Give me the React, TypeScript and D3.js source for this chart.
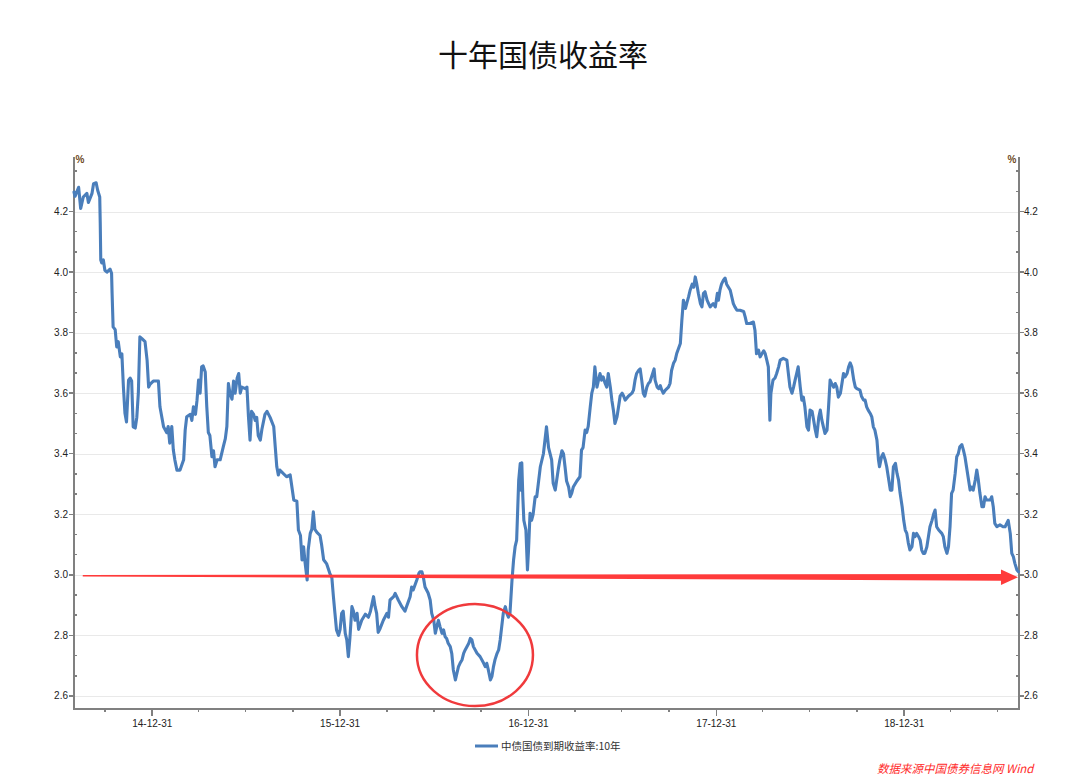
import React from "react";
import * as d3 from "d3";

const title = "十年国债收益率";
const seriesName = "中债国债到期收益率:10年";
const sourceNote = "数据来源中国债券信息网 Wind";
const unitLabel = "%";

const dates = [
"2014-08-01","2014-08-03","2014-08-10","2014-08-14","2014-08-19","2014-08-26","2014-08-29","2014-09-05","2014-09-08","2014-09-13",
"2014-09-16","2014-09-20","2014-09-21","2014-09-22","2014-09-24","2014-09-27","2014-09-30","2014-10-04","2014-10-10","2014-10-13",
"2014-10-14","2014-10-16","2014-10-20","2014-10-23","2014-10-26","2014-10-30","2014-11-02","2014-11-05","2014-11-08","2014-11-11",
"2014-11-15","2014-11-18","2014-11-21","2014-11-24","2014-11-28","2014-12-01","2014-12-04","2014-12-07","2014-12-11","2014-12-14",
"2014-12-17","2014-12-21","2014-12-24","2014-12-27","2015-01-02","2015-01-12","2015-01-15","2015-01-22","2015-01-28","2015-01-31",
"2015-02-03","2015-02-07","2015-02-10","2015-02-13","2015-02-17","2015-02-23","2015-03-02","2015-03-05","2015-03-08","2015-03-15",
"2015-03-18","2015-03-21","2015-03-25","2015-03-28","2015-03-31","2015-04-03","2015-04-06","2015-04-09","2015-04-13","2015-04-16",
"2015-04-19","2015-04-22","2015-04-26","2015-04-29","2015-05-02","2015-05-06","2015-05-12","2015-05-18","2015-05-22","2015-05-25",
"2015-05-28","2015-05-31","2015-06-04","2015-06-07","2015-06-10","2015-06-14","2015-06-17","2015-06-20","2015-06-23","2015-06-30",
"2015-07-03","2015-07-06","2015-07-09","2015-07-12","2015-07-16","2015-07-19","2015-07-22","2015-07-25","2015-07-29","2015-08-01",
"2015-08-07","2015-08-11","2015-08-17","2015-08-24","2015-08-27","2015-08-30","2015-09-02","2015-09-05","2015-09-18","2015-09-25",
"2015-10-02","2015-10-08","2015-10-11","2015-10-15","2015-10-18","2015-10-21","2015-10-24","2015-10-28","2015-10-30","2015-11-03",
"2015-11-06","2015-11-09","2015-11-12","2015-11-16","2015-11-22","2015-11-25","2015-11-29","2015-12-05","2015-12-11","2015-12-15",
"2015-12-18","2015-12-21","2015-12-24","2015-12-28","2015-12-31","2016-01-03","2016-01-06","2016-01-10","2016-01-13","2016-01-16",
"2016-01-19","2016-01-23","2016-01-26","2016-01-29","2016-02-02","2016-02-05","2016-02-11","2016-02-18","2016-02-24","2016-02-28",
"2016-03-05","2016-03-08","2016-03-11","2016-03-14","2016-03-17","2016-03-24","2016-03-31","2016-04-03","2016-04-06","2016-04-13",
"2016-04-16","2016-04-19","2016-04-22","2016-04-29","2016-05-05","2016-05-08","2016-05-15","2016-05-18","2016-05-21","2016-05-28",
"2016-06-01","2016-06-03","2016-06-07","2016-06-10","2016-06-13","2016-06-16","2016-06-19","2016-06-23","2016-06-26","2016-06-30",
"2016-07-03","2016-07-06","2016-07-09","2016-07-12","2016-07-16","2016-07-19","2016-07-22","2016-07-25","2016-07-28","2016-08-01",
"2016-08-04","2016-08-07","2016-08-11","2016-08-14","2016-08-17","2016-08-20","2016-08-24","2016-08-27","2016-08-30","2016-09-06",
"2016-09-09","2016-09-12","2016-09-15","2016-09-22","2016-09-28","2016-10-05","2016-10-08","2016-10-11","2016-10-14","2016-10-18",
"2016-10-21","2016-10-24","2016-10-27","2016-10-31","2016-11-03","2016-11-06","2016-11-09","2016-11-12","2016-11-16","2016-11-19",
"2016-11-22","2016-11-25","2016-11-29","2016-12-02","2016-12-05","2016-12-08","2016-12-12","2016-12-15","2016-12-16","2016-12-18",
"2016-12-20","2016-12-22","2016-12-26","2016-12-29","2016-12-31","2017-01-03","2017-01-06","2017-01-09","2017-01-13","2017-01-16",
"2017-01-19","2017-01-23","2017-01-29","2017-02-04","2017-02-08","2017-02-14","2017-02-17","2017-02-21","2017-02-27","2017-03-02",
"2017-03-06","2017-03-09","2017-03-12","2017-03-15","2017-03-19","2017-03-22","2017-03-25","2017-03-28","2017-04-04","2017-04-10",
"2017-04-13","2017-04-16","2017-04-20","2017-04-23","2017-04-26","2017-04-30","2017-05-03","2017-05-06","2017-05-09","2017-05-13",
"2017-05-16","2017-05-19","2017-05-22","2017-05-25","2017-05-29","2017-06-01","2017-06-04","2017-06-08","2017-06-11","2017-06-14",
"2017-06-17","2017-06-21","2017-06-24","2017-06-27","2017-07-01","2017-07-04","2017-07-07","2017-07-13","2017-07-20","2017-07-23",
"2017-07-26","2017-07-29","2017-08-02","2017-08-05","2017-08-08","2017-08-11","2017-08-14","2017-08-18","2017-08-21","2017-08-24",
"2017-09-01","2017-09-03","2017-09-07","2017-09-10","2017-09-13","2017-09-16","2017-09-19","2017-09-23","2017-09-29","2017-10-02",
"2017-10-05","2017-10-09","2017-10-12","2017-10-15","2017-10-22","2017-10-25","2017-10-28","2017-11-01","2017-11-04","2017-11-07",
"2017-11-10","2017-11-14","2017-11-17","2017-11-20","2017-11-23","2017-11-26","2017-11-30","2017-12-03","2017-12-06","2017-12-09",
"2017-12-13","2017-12-16","2017-12-19","2017-12-25","2017-12-29","2018-01-02","2018-01-04","2018-01-07","2018-01-10","2018-01-14",
"2018-01-17","2018-01-20","2018-01-27","2018-02-02","2018-02-05","2018-02-09","2018-02-15","2018-02-22","2018-02-25","2018-02-28",
"2018-03-06","2018-03-13","2018-03-16","2018-03-19","2018-03-23","2018-03-26","2018-04-02","2018-04-05","2018-04-08","2018-04-11",
"2018-04-14","2018-04-16","2018-04-20","2018-04-24","2018-04-27","2018-05-01","2018-05-04","2018-05-10","2018-05-17","2018-05-20",
"2018-05-23","2018-05-27","2018-05-30","2018-06-02","2018-06-05","2018-06-08","2018-06-12","2018-06-15","2018-06-18","2018-06-21",
"2018-06-25","2018-06-28","2018-07-01","2018-07-05","2018-07-08","2018-07-11","2018-07-14","2018-07-18","2018-07-21","2018-07-24",
"2018-07-27","2018-07-30","2018-08-03","2018-08-06","2018-08-09","2018-08-12","2018-08-16","2018-08-19","2018-08-22","2018-08-25",
"2018-08-29","2018-09-01","2018-09-04","2018-09-07","2018-09-11","2018-09-14","2018-09-17","2018-09-20","2018-09-24","2018-09-27",
"2018-09-30","2018-10-06","2018-10-09","2018-10-13","2018-10-16","2018-10-19","2018-10-22","2018-10-26","2018-10-29","2018-11-01",
"2018-11-04","2018-11-08","2018-11-11","2018-11-13","2018-11-17","2018-11-20","2018-11-24","2018-11-27","2018-12-01","2018-12-04",
"2018-12-07","2018-12-10","2018-12-14","2018-12-17","2018-12-20","2018-12-23","2018-12-27","2018-12-30","2019-01-02","2019-01-05",
"2019-01-08","2019-01-11","2019-01-15","2019-01-18","2019-01-21","2019-01-24","2019-01-28","2019-01-31","2019-02-03","2019-02-06",
"2019-02-09","2019-02-13","2019-02-16","2019-02-19","2019-02-23","2019-02-26","2019-03-01","2019-03-04","2019-03-08","2019-03-14",
"2019-03-17","2019-03-20","2019-03-24","2019-03-27","2019-03-30","2019-04-02","2019-04-05","2019-04-09","2019-04-12","2019-04-15",
"2019-04-18","2019-04-22","2019-04-25","2019-04-28","2019-05-01","2019-05-05","2019-05-08","2019-05-11","2019-05-14","2019-05-18",
"2019-05-21","2019-05-24","2019-05-27","2019-05-31","2019-06-03","2019-06-06","2019-06-09","2019-06-16","2019-06-19","2019-06-22",
"2019-06-25","2019-06-29","2019-07-05","2019-07-11","2019-07-15","2019-07-21","2019-07-25","2019-07-28","2019-07-31","2019-08-03",
"2019-08-07","2019-08-10"
];

const yields = [
4.264,4.25,4.28,4.21,4.248,4.26,4.23,4.26,4.292,4.295,
4.27,4.248,4.16,4.04,4.03,4.04,4.006,4.0,4.01,3.996,
3.93,3.819,3.81,3.753,3.77,3.72,3.73,3.62,3.534,3.505,
3.643,3.65,3.64,3.489,3.485,3.52,3.6,3.786,3.78,3.775,
3.77,3.709,3.62,3.63,3.64,3.64,3.555,3.489,3.47,3.49,
3.435,3.49,3.412,3.379,3.346,3.346,3.38,3.478,3.522,3.53,
3.51,3.555,3.53,3.577,3.643,3.6,3.687,3.69,3.67,3.555,
3.47,3.46,3.39,3.41,3.357,3.38,3.38,3.423,3.45,3.49,
3.632,3.6,3.58,3.64,3.6,3.65,3.665,3.6,3.62,3.615,
3.62,3.522,3.445,3.54,3.53,3.51,3.52,3.46,3.445,3.48,
3.53,3.54,3.52,3.49,3.423,3.357,3.33,3.346,3.324,3.33,
3.247,3.243,3.148,3.13,3.049,3.093,3.04,2.983,3.082,3.137,
3.15,3.208,3.15,3.14,3.13,3.1,3.05,3.036,3.005,2.99,
2.928,2.873,2.818,2.8,2.82,2.873,2.88,2.807,2.785,2.73,
2.79,2.895,2.88,2.85,2.873,2.82,2.85,2.87,2.86,2.88,
2.928,2.895,2.873,2.81,2.82,2.85,2.873,2.86,2.917,2.928,
2.939,2.928,2.917,2.895,2.88,2.895,2.928,2.96,2.95,2.983,
3.005,3.01,3.01,2.99,2.96,2.95,2.94,2.917,2.873,2.85,
2.807,2.83,2.85,2.83,2.807,2.818,2.796,2.79,2.774,2.763,
2.74,2.686,2.653,2.675,2.697,2.708,2.72,2.741,2.752,2.774,
2.79,2.785,2.763,2.741,2.73,2.708,2.697,2.708,2.686,2.653,
2.665,2.697,2.72,2.741,2.752,2.785,2.829,2.873,2.895,2.873,
2.86,2.873,2.983,3.049,3.093,3.115,3.313,3.368,3.28,3.37,
3.258,3.18,3.148,3.016,3.08,3.203,3.18,3.2,3.258,3.258,
3.3,3.357,3.4,3.489,3.42,3.38,3.302,3.28,3.35,3.38,
3.41,3.4,3.357,3.31,3.29,3.258,3.27,3.29,3.31,3.324,
3.412,3.42,3.478,3.47,3.49,3.555,3.6,3.62,3.687,3.62,
3.643,3.665,3.643,3.654,3.632,3.62,3.665,3.62,3.577,3.544,
3.5,3.522,3.555,3.59,3.6,3.59,3.577,3.59,3.6,3.61,
3.643,3.665,3.675,3.68,3.643,3.6,3.59,3.62,3.632,3.637,
3.68,3.643,3.62,3.615,3.625,3.61,3.6,3.61,3.62,3.632,
3.675,3.7,3.709,3.731,3.764,3.841,3.907,3.88,3.9,3.918,
3.94,3.96,3.95,3.984,3.96,3.93,3.896,3.885,3.93,3.935,
3.907,3.896,3.885,3.896,3.885,3.93,3.907,3.94,3.96,3.974,
3.98,3.96,3.94,3.896,3.885,3.874,3.874,3.87,3.852,3.83,
3.83,3.835,3.808,3.73,3.742,3.72,3.74,3.73,3.709,3.687,
3.511,3.6,3.643,3.65,3.664,3.687,3.709,3.715,3.709,3.664,
3.62,3.6,3.62,3.643,3.665,3.687,3.62,3.577,3.587,3.555,
3.489,3.478,3.544,3.54,3.511,3.48,3.456,3.52,3.544,3.511,
3.489,3.467,3.478,3.555,3.643,3.632,3.62,3.632,3.62,3.587,
3.6,3.632,3.665,3.654,3.665,3.687,3.7,3.687,3.643,3.62,
3.615,3.61,3.59,3.577,3.577,3.555,3.544,3.533,3.522,3.489,
3.478,3.445,3.379,3.357,3.39,3.4,3.38,3.357,3.313,3.28,
3.28,3.357,3.368,3.335,3.313,3.27,3.225,3.18,3.148,3.137,
3.105,3.082,3.093,3.137,3.126,3.137,3.126,3.115,3.082,3.071,
3.071,3.093,3.126,3.159,3.18,3.2,3.214,3.159,3.148,3.137,
3.126,3.093,3.071,3.093,3.159,3.269,3.28,3.335,3.39,3.4,
3.423,3.43,3.412,3.39,3.357,3.313,3.28,3.29,3.28,3.313,
3.346,3.313,3.27,3.225,3.225,3.258,3.247,3.247,3.258,3.225,
3.17,3.159,3.165,3.159,3.159,3.18,3.137,3.071,3.06,3.038,
3.016,3.01
];

const xDomain = ["2014-08-01", "2019-08-11"];
const yDomain = [2.557, 4.38];
const yMajorTicks = [2.6, 2.8, 3.0, 3.2, 3.4, 3.6, 3.8, 4.0, 4.2];
const xMajorTicks = ["2014-12-31", "2015-12-31", "2016-12-31", "2017-12-31", "2018-12-31"];
const xMinorTicks = [
  "2014-09-30", "2015-03-31", "2015-06-30", "2015-09-30", "2016-03-31", "2016-06-30", "2016-09-30",
  "2017-03-31", "2017-06-30", "2017-09-30", "2018-03-31", "2018-06-30", "2018-09-30", "2019-03-31", "2019-06-30",
];

// annotations (in data terms)
const arrowLevel = 2.997;
const arrowEndLevel = 2.992;
const arrowStart = "2014-08-18";
const arrowTip = "2019-08-09";
const circleCenter = { date: "2016-09-18", value: 2.735 };

const W = 1080;
const H = 781;
const L = 74;
const R = 1019;
const T = 157;
const B = 709;

const parse = d3.timeParse("%Y-%m-%d");
const fmt = d3.timeFormat("%y-%m-%d");

export default function App() {
  const x = d3.scaleTime().domain(xDomain.map((d) => parse(d) as Date)).range([L, R]);
  const y = d3.scaleLinear().domain(yDomain).range([B, T]);

  const data = dates.map((d, i) => ({ date: parse(d) as Date, value: yields[i] }));
  const line = d3
    .line<{ date: Date; value: number }>()
    .x((d) => x(d.date))
    .y((d) => y(d.value));

  const step = 0.2 / 3;
  const isMinor = (v: number) => !yMajorTicks.some((m) => Math.abs(m - v) < 1e-3);
  const minorY = d3
    .range(-1, 30)
    .map((i) => +(2.6 + i * step).toFixed(4))
    .filter((v) => v >= yDomain[0] && v <= yDomain[1] && isMinor(v));

  const axisColor = "#808080";
  const labelFont = "'Liberation Sans', Arial, sans-serif";
  const cjkFont = "'Noto Sans CJK SC', 'Noto Sans', sans-serif";

  // arrow polygon
  const ax0 = x(parse(arrowStart) as Date);
  const ax1 = x(parse(arrowTip) as Date);
  const ay0 = y(arrowLevel);
  const ay1 = y(arrowEndLevel);
  const headLen = 17;
  const axh = ax1 - headLen;
  const ayh = ay1;
  const arrowPts: [number, number][] = [
    [ax0, ay0 - 0.8],
    [axh, ayh - 3.4],
    [axh, ayh - 7.8],
    [ax1, ay1],
    [axh, ayh + 7.8],
    [axh, ayh + 3.4],
    [ax0, ay0 + 0.8],
  ];

  const cx = x(parse(circleCenter.date) as Date);
  const cy = y(circleCenter.value);

  return (
    <svg
      width={W}
      height={H}
      style={{ position: "absolute", left: 0, top: 0, background: "#fff" }}
    >
      <rect x={0} y={0} width={W} height={H} fill="#fff" />
      <text
        x={543}
        y={66}
        textAnchor="middle"
        fontFamily={cjkFont}
        fontSize={30}
        fill="#111"
      >
        {title}
      </text>

      {/* gridlines */}
      <g>
        {yMajorTicks.map((t) => (
          <line
            key={"g" + t}
            x1={L + 1}
            x2={R - 1}
            y1={Math.round(y(t)) + 0.5}
            y2={Math.round(y(t)) + 0.5}
            stroke="#e9e9e9"
            strokeWidth={1}
          />
        ))}
      </g>

      {/* axes */}
      <g shapeRendering="crispEdges">
        <line x1={L} x2={L} y1={T} y2={B} stroke={axisColor} strokeWidth={2} />
        <line x1={R} x2={R} y1={T} y2={B} stroke={axisColor} strokeWidth={2} />
        <line x1={L - 1} x2={R + 1} y1={B} y2={B} stroke={axisColor} strokeWidth={2} />
        {yMajorTicks.map((t) => (
          <g key={"yt" + t}>
            <line x1={L - 5} x2={L} y1={y(t)} y2={y(t)} stroke={axisColor} strokeWidth={1.5} />
            <line x1={R} x2={R + 5} y1={y(t)} y2={y(t)} stroke={axisColor} strokeWidth={1.5} />
          </g>
        ))}
        {minorY.map((t) => (
          <g key={"ym" + t}>
            <line x1={L} x2={L + 3} y1={y(t)} y2={y(t)} stroke={axisColor} strokeWidth={1.5} />
            <line x1={R - 3} x2={R} y1={y(t)} y2={y(t)} stroke={axisColor} strokeWidth={1.5} />
          </g>
        ))}
        {xMajorTicks.map((d) => {
          const xx = x(parse(d) as Date);
          return <line key={"xt" + d} x1={xx} x2={xx} y1={B} y2={B + 7} stroke={axisColor} strokeWidth={1.5} />;
        })}
        {xMinorTicks.map((d) => {
          const xx = x(parse(d) as Date);
          return <line key={"xm" + d} x1={xx} x2={xx} y1={B} y2={B + 3} stroke={axisColor} strokeWidth={1.5} />;
        })}
      </g>

      {/* tick labels */}
      <g fontFamily={labelFont} fontSize={10} fill="#222">
        {yMajorTicks.map((t) => (
          <g key={"yl" + t}>
            <text x={L - 6} y={y(t)} dy="0.35em" textAnchor="end">
              {t.toFixed(1)}
            </text>
            <text x={R + 5} y={y(t)} dy="0.35em" textAnchor="start">
              {t.toFixed(1)}
            </text>
          </g>
        ))}
        {xMajorTicks.map((d) => (
          <text key={"xl" + d} x={x(parse(d) as Date)} y={727} textAnchor="middle">
            {fmt(parse(d) as Date)}
          </text>
        ))}
      </g>
      <text x={80} y={163} textAnchor="middle" fontFamily={labelFont} fontSize={10} fontWeight="bold" fill="#6e4a1c">
        {unitLabel}
      </text>
      <text x={1012} y={163} textAnchor="middle" fontFamily={labelFont} fontSize={10} fontWeight="bold" fill="#6e4a1c">
        {unitLabel}
      </text>

      {/* series */}
      <path
        d={line(data) || ""}
        fill="none"
        stroke="#4a7ebb"
        strokeWidth={3.1}
        strokeLinejoin="round"
        strokeLinecap="round"
      />

      {/* annotations */}
      <polygon points={arrowPts.map((p) => p.join(",")).join(" ")} fill="#ff3b3b" />
      <ellipse cx={cx} cy={cy} rx={58} ry={51} fill="none" stroke="#f03a3c" strokeWidth={2.5} />

      {/* legend */}
      <line x1={475} x2={498} y1={746} y2={746} stroke="#4a7ebb" strokeWidth={3} />
      <text x={501} y={750} fontFamily={cjkFont} fontSize={10.5} fill="#333">
        {seriesName}
      </text>

      {/* source */}
      <text x={877} y={773} fontFamily={cjkFont} fontSize={11.5} fontStyle="italic" fill="#ff2a2a">
        {sourceNote}
      </text>
    </svg>
  );
}
